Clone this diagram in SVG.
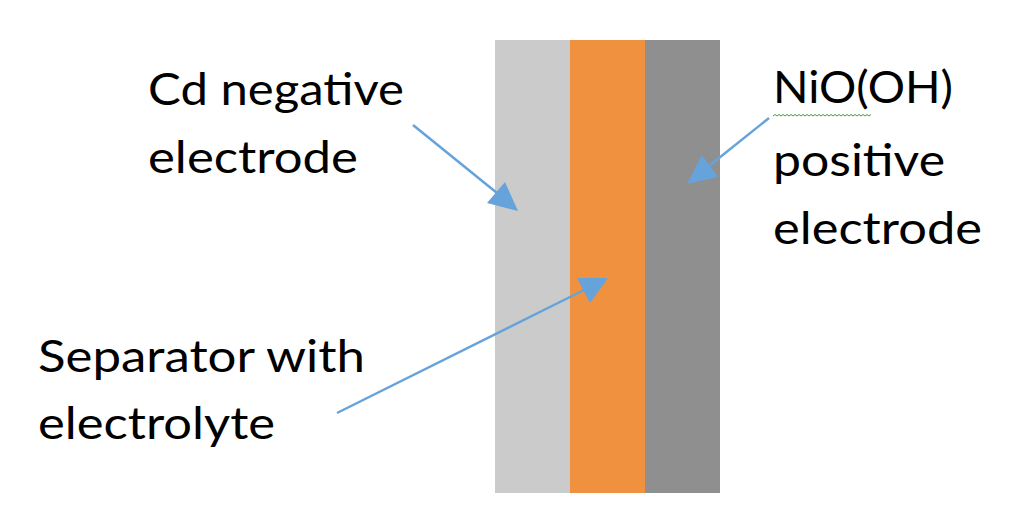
<svg xmlns="http://www.w3.org/2000/svg" width="1026" height="528" viewBox="0 0 1026 528">
<style>
.lbl{font-family:"Lato","Open Sans","Liberation Sans",sans-serif;font-size:45px;fill:#000}
.ln{stroke:#66A3DA;stroke-width:2.5;fill:none}
.hd{fill:#66A3DA}
</style>
<rect width="1026" height="528" fill="#fff"/>
<g id="cell">
<rect id="neg" x="495" y="40" width="75" height="453" fill="#CBCBCB"/>
<rect id="sep" x="570" y="40" width="75" height="453" fill="#F0913F"/>
<rect id="pos" x="645" y="40" width="75" height="453" fill="#8F8F8F"/>
</g>
<g id="label-cd">
<text class="lbl" x="148" y="105" textLength="256" lengthAdjust="spacingAndGlyphs">Cd negative</text>
<text class="lbl" x="148" y="173" textLength="210" lengthAdjust="spacingAndGlyphs">electrode</text>
</g>
<g id="label-nio">
<text class="lbl" x="773" y="103" textLength="180" lengthAdjust="spacingAndGlyphs">NiO(OH)</text>
<text class="lbl" x="773" y="176" textLength="172" lengthAdjust="spacingAndGlyphs">positive</text>
<text class="lbl" x="773" y="244" textLength="209" lengthAdjust="spacingAndGlyphs">electrode</text>
<path d="M773 116 l2 -1.5 l2 1.5 l2 -1.5 l2 1.5 l2 -1.5 l2 1.5 l2 -1.5 l2 1.5 l2 -1.5 l2 1.5 l2 -1.5 l2 1.5 l2 -1.5 l2 1.5 l2 -1.5 l2 1.5 l2 -1.5 l2 1.5 l2 -1.5 l2 1.5 l2 -1.5 l2 1.5 l2 -1.5 l2 1.5 l2 -1.5 l2 1.5 l2 -1.5 l2 1.5 l2 -1.5 l2 1.5 l2 -1.5 l2 1.5 l2 -1.5 l2 1.5 l2 -1.5 l2 1.5 l2 -1.5 l2 1.5 l2 -1.5 l2 1.5 l2 -1.5 l2 1.5 l2 -1.5 l2 1.5 l2 -1.5 l2 1.5 l2 -1.5 l2 1.5 l2 -1.5" stroke="#3BA53B" stroke-width="1" fill="none"/>
</g>
<g id="label-sep">
<text class="lbl" x="38" y="372" textLength="327" lengthAdjust="spacingAndGlyphs">Separator with</text>
<text class="lbl" x="38" y="439" textLength="237" lengthAdjust="spacingAndGlyphs">electrolyte</text>
</g>
<g id="connectors">
<line class="ln" x1="413" y1="125" x2="497" y2="193"/>
<polygon class="hd" points="518,211 487,203 505,182"/>
<line class="ln" x1="769" y1="118" x2="709" y2="166"/>
<polygon class="hd" points="687,184 718,177 702,155"/>
<line class="ln" x1="337" y1="413" x2="584" y2="290"/>
<polygon class="hd" points="608,278 577,278 590,303"/>
</g>
</svg>
